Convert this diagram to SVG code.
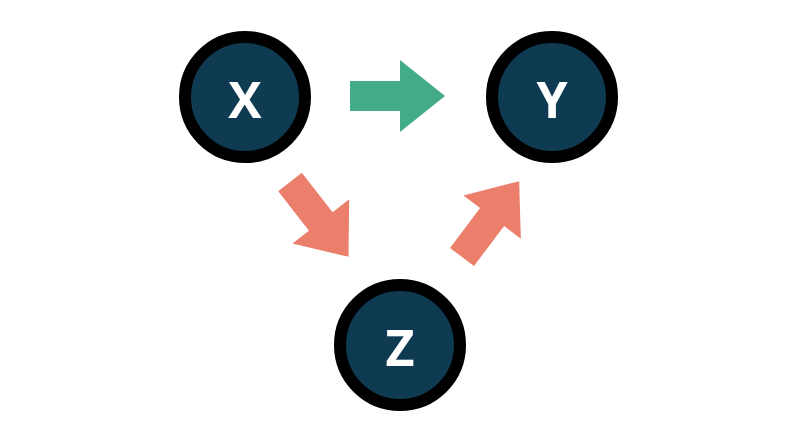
<svg xmlns="http://www.w3.org/2000/svg" width="800" height="440" viewBox="0 0 800 440">
<style>
.node{fill:#0e3a52;stroke:#000;stroke-width:12}
.lbl{font-family:"Open Sans","Liberation Sans",sans-serif;font-weight:bold;font-size:50px;fill:#fff;text-anchor:middle;dominant-baseline:central}
</style>
<defs><polygon id="arr" points="0,-15 50,-15 50,-36 95,0 50,36 50,15 0,15"/></defs>
<rect width="800" height="440" fill="#fff"/>
<g id="connectors">
<use href="#arr" fill="#43ab88" transform="translate(350,96)"/>
<use href="#arr" fill="#ec7f6b" transform="translate(290,182) rotate(52)"/>
<use href="#arr" fill="#ec7f6b" transform="translate(462,257) rotate(-53)"/>
</g>
<g id="X"><circle class="node" cx="245" cy="97" r="60"/><text class="lbl" x="245" y="99">X</text></g>
<g id="Y"><circle class="node" cx="552" cy="97" r="60"/><text class="lbl" x="552" y="99">Y</text></g>
<g id="Z"><circle class="node" cx="400" cy="345" r="60"/><text class="lbl" x="400" y="347">Z</text></g>
</svg>
